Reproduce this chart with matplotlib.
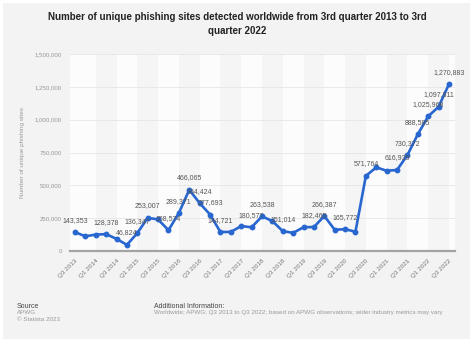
import matplotlib.pyplot as plt
import matplotlib.patches as mpatches
from matplotlib.ticker import FuncFormatter
import numpy as np

plt.rcParams["font.family"] = ["Liberation Sans", "DejaVu Sans"]

# quarterly counts, Q3 2013 .. Q3 2022
quarters = [
    "Q3 2013", "Q4 2013",
    "Q1 2014", "Q2 2014", "Q3 2014", "Q4 2014",
    "Q1 2015", "Q2 2015", "Q3 2015", "Q4 2015",
    "Q1 2016", "Q2 2016", "Q3 2016", "Q4 2016",
    "Q1 2017", "Q2 2017", "Q3 2017", "Q4 2017",
    "Q1 2018", "Q2 2018", "Q3 2018", "Q4 2018",
    "Q1 2019", "Q2 2019", "Q3 2019", "Q4 2019",
    "Q1 2020", "Q2 2020", "Q3 2020", "Q4 2020",
    "Q1 2021", "Q2 2021", "Q3 2021", "Q4 2021",
    "Q1 2022", "Q2 2022", "Q3 2022",
]
sites = [
    143353, 112000,
    125000, 128378, 92000, 46824,
    136347, 253007, 240000, 158574,
    289371, 466065, 364424, 277693,
    144721, 145000, 190000, 180577,
    263538, 228000, 151014, 138000,
    181000, 182465, 266387, 162000,
    165772, 147000, 571764, 637000,
    611000, 616939, 730372, 888585,
    1025968, 1097811, 1270883,
]
# points that carry a value label
labelled = [0, 3, 5, 6, 7, 9, 10, 11, 12, 13, 14, 17, 18, 20, 23, 24,
            26, 28, 31, 32, 33, 34, 35, 36]
y_ticks = [0, 250000, 500000, 750000, 1000000, 1250000, 1500000]

title = ("Number of unique phishing sites detected worldwide from 3rd quarter 2013 to 3rd\n"
         "quarter 2022")

W, H = 474, 342
fig = plt.figure(figsize=(W / 100, H / 100), dpi=100, facecolor="white")

# light grey card behind everything
card = mpatches.Rectangle((3 / W, 1 - 339 / H), 467 / W, 336 / H,
                          transform=fig.transFigure, facecolor="#f3f3f3",
                          edgecolor="none", zorder=-10)
fig.patches.append(card)

ax = fig.add_axes([70 / W, 1 - 251 / H, 385 / W, 197 / H])
ax.set_facecolor("#fcfcfc")

x = np.arange(len(sites))

# alternating column shading
for i in range(3, len(sites), 4):
    ax.axvspan(i - 1, i + 1, color="#f5f5f5", lw=0, zorder=0)

ax.plot(x, sites, color="#2866d0", lw=1.9, marker="o", ms=3.2,
        solid_joinstyle="round", zorder=3)

for i in labelled:
    ax.annotate(f"{sites[i]:,}", (x[i], sites[i]), xytext=(0, 8.6),
                textcoords="offset points", ha="center", va="center",
                fontsize=5, color="#555555", zorder=4)

ax.set_xlim(-0.48, len(sites) - 1 + 0.58)
ax.set_ylim(0, 1500000)
ax.set_yticks(y_ticks)
ax.yaxis.set_major_formatter(FuncFormatter(lambda v, _: f"{int(v):,}"))
ax.grid(axis="y", color="#e6e6e6", lw=0.6, zorder=1)
ax.set_axisbelow(True)

ax.set_xticks(x[::2])
ax.set_xticklabels(quarters[::2], rotation=45, ha="right",
                   rotation_mode="anchor", fontsize=4.6, color="#777777")
ax.tick_params(axis="both", length=0)
ax.tick_params(axis="y", labelsize=4.4, labelcolor="#999999", pad=6)
ax.tick_params(axis="x", pad=5)

for side in ["top", "right", "left"]:
    ax.spines[side].set_visible(False)
ax.spines["bottom"].set_color("#a3a3a3")
ax.spines["bottom"].set_linewidth(1.6)

ax.set_ylabel("Number of unique phishing sites", fontsize=4.6,
              color="#999999", labelpad=7)

fig.text(0.5, 1 - 24 / H, title, ha="center", va="center", fontsize=7,
         fontweight="bold", color="#222222", linespacing=1.6)

fig.text(17 / W, 1 - 306 / H, "Source", fontsize=5, color="#444444", va="center")
fig.text(17 / W, 1 - 312.5 / H, "APWG", fontsize=4.5, color="#999999", va="center")
fig.text(17 / W, 1 - 319.5 / H, "\u00a9 Statista 2023", fontsize=4.5,
         color="#999999", va="center")
fig.text(154 / W, 1 - 306 / H, "Additional Information:", fontsize=5,
         color="#444444", va="center")
fig.text(154 / W, 1 - 312.5 / H,
         "Worldwide; APWG; Q3 2013 to Q3 2022; based on APWG observations; wider industry metrics may vary",
         fontsize=4.5, color="#999999", va="center")

fig.savefig("out.png", dpi=100, facecolor=fig.get_facecolor())
